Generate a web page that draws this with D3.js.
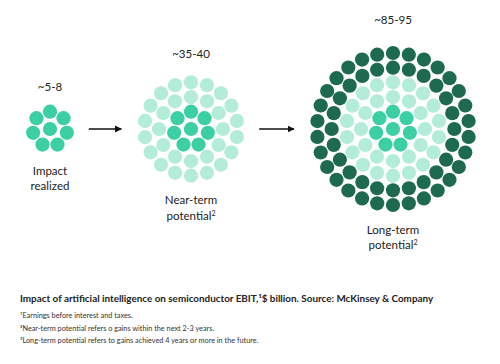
<!DOCTYPE html>
<html>
<head>
<meta charset="utf-8">
<script src="https://cdn.jsdelivr.net/npm/d3@7"></script>
<style>
  body { margin: 0; background: #fff; }
  svg { font-family: Lato, "Open Sans", sans-serif; }
</style>
</head>
<body>
<svg id="chart" width="500" height="364"></svg>
<script>
// stages of the impact
var stages = ["Impact realized", "Near-term potential", "Long-term potential"];
var valueLabels = ["~5-8", "~35-40", "~85-95"];
var nameLines = [["Impact", "realized"], ["Near-term", "potential²"], ["Long-term", "potential²"]];

// circles per ring (ring 0 is the centre), for each stage
var ringCounts = [
  [1, 7],
  [1, 7, 12, 18],
  [1, 7, 12, 18, 24, 30]
];
// which group each ring belongs to
var ringGroups = ["realized", "realized", "near", "near", "long", "long"];

var title = "Impact of artificial intelligence on semiconductor EBIT,¹$ billion. Source: McKinsey & Company";
var notes = [
  "¹Earnings before interest and taxes.",
  "²Near-term potential refers o gains within the next 2-3 years.",
  "³Long-term potential refers to gains achieved 4 years or more in the future."
];

var svg = d3.select("#chart");

var x = d3.scaleOrdinal().domain(stages).range([50, 191, 393]);
var cy = 129;
var ringR = d3.scaleLinear().domain([1, 5]).range([17.3, 76]);
var color = d3.scaleOrdinal()
  .domain(["realized", "near", "long"])
  .range(["#3ccfa3", "#b3ecd8", "#1e6a51"]);

// build the dots
var dots = [];
ringCounts.forEach(function(rings, s) {
  rings.forEach(function(n, ri) {
    for (var k = 0; k < n; k++) {
      var a = -Math.PI / 2 + (2 * Math.PI * k) / n;
      var rr = ri === 0 ? 0 : ringR(ri);
      dots.push({
        stage: stages[s],
        group: ringGroups[ri],
        x: rr * Math.cos(a),
        y: rr * Math.sin(a)
      });
    }
  });
});

svg.append("g")
  .selectAll("circle")
  .data(dots)
  .enter()
  .append("circle")
    .attr("cx", function(d) { return x(d.stage) + d.x; })
    .attr("cy", function(d) { return cy + d.y; })
    .attr("r", 7.1)
    .style("fill", function(d) { return color(d.group); });

// value labels above each cluster
var outerR = ringCounts.map(function(r) { return ringR(r.length - 1); });
svg.append("g")
  .selectAll("text")
  .data(stages)
  .enter()
  .append("text")
    .attr("x", function(d) { return x(d); })
    .attr("y", function(d, i) { return cy - outerR[i] * 1.14 - 18.3; })
    .attr("text-anchor", "middle")
    .style("font-size", "11.5px")
    .style("fill", "#222")
    .text(function(d, i) { return valueLabels[i]; });

// names below each cluster
var names = svg.append("g")
  .selectAll("text")
  .data(stages)
  .enter()
  .append("text")
    .attr("x", function(d) { return x(d); })
    .attr("y", function(d, i) { return cy + outerR[i] + 28.5; })
    .attr("text-anchor", "middle")
    .style("font-size", "11.5px")
    .style("fill", "#222");
names.each(function(d, i) {
  var t = d3.select(this);
  nameLines[i].forEach(function(line, j) {
    var base = line.replace("²", "");
    t.append("tspan")
      .attr("x", x(d))
      .attr("dy", j === 0 ? 0 : 15.5)
      .text(base);
    if (line !== base) {
      t.append("tspan").attr("dy", -4).style("font-size", "7px").text("2");
    }
  });
});

// arrows
var defs = svg.append("defs");
defs.append("marker")
  .attr("id", "head")
  .attr("viewBox", "0 0 10 10")
  .attr("refX", 9).attr("refY", 5)
  .attr("markerWidth", 4.5).attr("markerHeight", 4.5)
  .attr("orient", "auto")
  .append("path")
    .attr("d", "M0,0L10,5L0,10Z")
    .style("fill", "#111");

var arrows = [
  [stages[0], stages[1]],
  [stages[1], stages[2]]
];
svg.append("g")
  .selectAll("line")
  .data(arrows)
  .enter()
  .append("line")
    .attr("x1", function(d) { return x(d[0]) + outerR[stages.indexOf(d[0])] + 21.5; })
    .attr("x2", function(d) { return x(d[1]) - outerR[stages.indexOf(d[1])] - 23; })
    .attr("y1", cy).attr("y2", cy)
    .style("stroke", "#111")
    .style("stroke-width", 1.6)
    .attr("marker-end", "url(#head)");

// title and footnotes
svg.append("text")
  .attr("x", 20).attr("y", 302)
  .style("font-size", "9.9px")
  .style("font-weight", "bold")
  .style("fill", "#222")
  .text(title);

svg.append("g")
  .selectAll("text")
  .data(notes)
  .enter()
  .append("text")
    .attr("x", 20)
    .attr("y", function(d, i) { return 318 + i * 12.7; })
    .style("font-size", "7.3px")
    .style("fill", "#333")
    .text(function(d) { return d; });
</script>
</body>
</html>
